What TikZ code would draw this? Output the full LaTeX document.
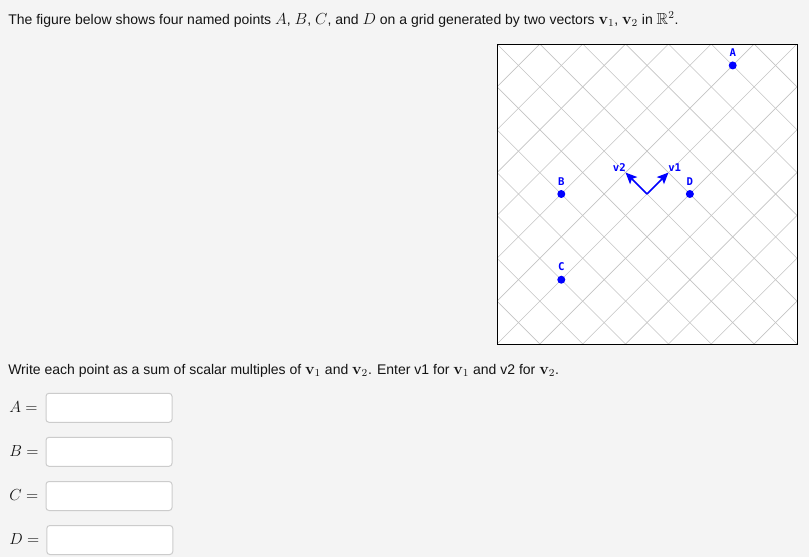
\documentclass[tikz,border=0pt]{standalone}
\usepackage{amsmath,amssymb}
\usepackage[no-math]{fontspec}
\setmainfont{Liberation Sans}
\newfontfamily\gridfont{DejaVu Sans Mono}
\usetikzlibrary{arrows.meta,calc}
\definecolor{pagebg}{RGB}{244,244,244}
\definecolor{gridgray}{RGB}{196,196,196}
\definecolor{ptblue}{RGB}{0,0,255}
\definecolor{boxborder}{RGB}{204,204,204}
\definecolor{txt}{RGB}{20,20,20}
\newcommand\mm[1]{{\fontsize{12}{14}\selectfont$#1$}}
\tikzset{
  body/.style={anchor=base west, inner sep=0pt, font=\fontsize{10.5}{12}\selectfont, text=txt},
  eqlab/.style={anchor=base west, inner sep=0pt, font=\fontsize{11.5}{14}\selectfont, text=txt},
  inbox/.style={draw=boxborder, fill=white, rounded corners=2.25pt, minimum width=94.5pt, minimum height=21.75pt, inner sep=0pt, line width=0.75pt},
  pt/.style={circle, fill=ptblue, inner sep=0pt, minimum size=6pt},
  ptlab/.style={inner sep=0pt, text=ptblue, font=\gridfont\bfseries\fontsize{8}{9}\selectfont},
  gridline/.style={draw=gridgray, line width=0.45pt},
  vec/.style={draw=ptblue, line width=1.2pt, -{Stealth[length=8.5pt,width=7.5pt,inset=1.8pt]}}
}
\begin{document}
\begin{tikzpicture}[x=0.75pt,y=-0.75pt]
\fill[pagebg] (0,0) rectangle (809,557);
\useasboundingbox (0,0) rectangle (809,557);
% title
\node[body] (title) at (8,24.5) {The figure below shows four named points \mm{A}, \mm{B}, \mm{C}, and \mm{D} on a grid generated by two vectors \mm{\mathbf{v}_1}, \mm{\mathbf{v}_2} in \mm{\mathbb{R}^2}.};
% graph
\begin{scope}[shift={(647,194)}, x=16.0714pt, y=16.0714pt]
  \fill[white] (-7,-7) rectangle (7,7);
  \begin{scope}
    \clip (-7,-7) rectangle (7,7);
    \foreach \k in {-7,...,7} {
      \draw[gridline] ({2*\k+8},-8) -- ({2*\k-8},8);
      \draw[gridline] (-8,{2*\k-8}) -- (8,{2*\k+8});
    }
  \end{scope}
  \draw[black, line width=0.75pt] (-7,-7) rectangle (7,7);
  \coordinate (O) at (0,0);
  \coordinate (V1) at (1,1);
  \coordinate (V2) at (-1,1);
  \draw[vec] (O) -- (V1);
  \draw[vec] (O) -- (V2);
  \node[ptlab, anchor=south west] (v1lab) at ($(V1)+(-0.02,0.05)$) {v1};
  \node[ptlab, anchor=south east] (v2lab) at ($(V2)+(0.02,0.05)$) {v2};
  \node[pt] (A) at (4,6) {};
  \node[pt] (B) at (-4,0) {};
  \node[pt] (C) at (-4,-4) {};
  \node[pt] (D) at (2,0) {};
  \node[ptlab] (Al) at (4,6.6) {A};
  \node[ptlab] (Bl) at (-4,0.6) {B};
  \node[ptlab] (Cl) at (-4,-3.4) {C};
  \node[ptlab] (Dl) at (2,0.6) {D};
\end{scope}
% instruction
\node[body] (instr) at (8,374.5) {Write each point as a sum of scalar multiples of \mm{\mathbf{v}_1} and \mm{\mathbf{v}_2}. Enter v1 for \mm{\mathbf{v}_1} and v2 for \mm{\mathbf{v}_2}.};
% answer rows
\node[inbox] (Abox) at (109,407.8) {};
\node[inbox] (Bbox) at (109,451.8) {};
\node[inbox] (Cbox) at (109,496) {};
\node[inbox] (Dbox) at (109.8,540) {};
\node[eqlab] (Aeq) at (9,412.3) {$A =$};
\node[eqlab] (Beq) at (9,456.3) {$B =$};
\node[eqlab] (Ceq) at (9,500.5) {$C =$};
\node[eqlab] (Deq) at (9,544.5) {$D =$};
\end{tikzpicture}
\end{document}
